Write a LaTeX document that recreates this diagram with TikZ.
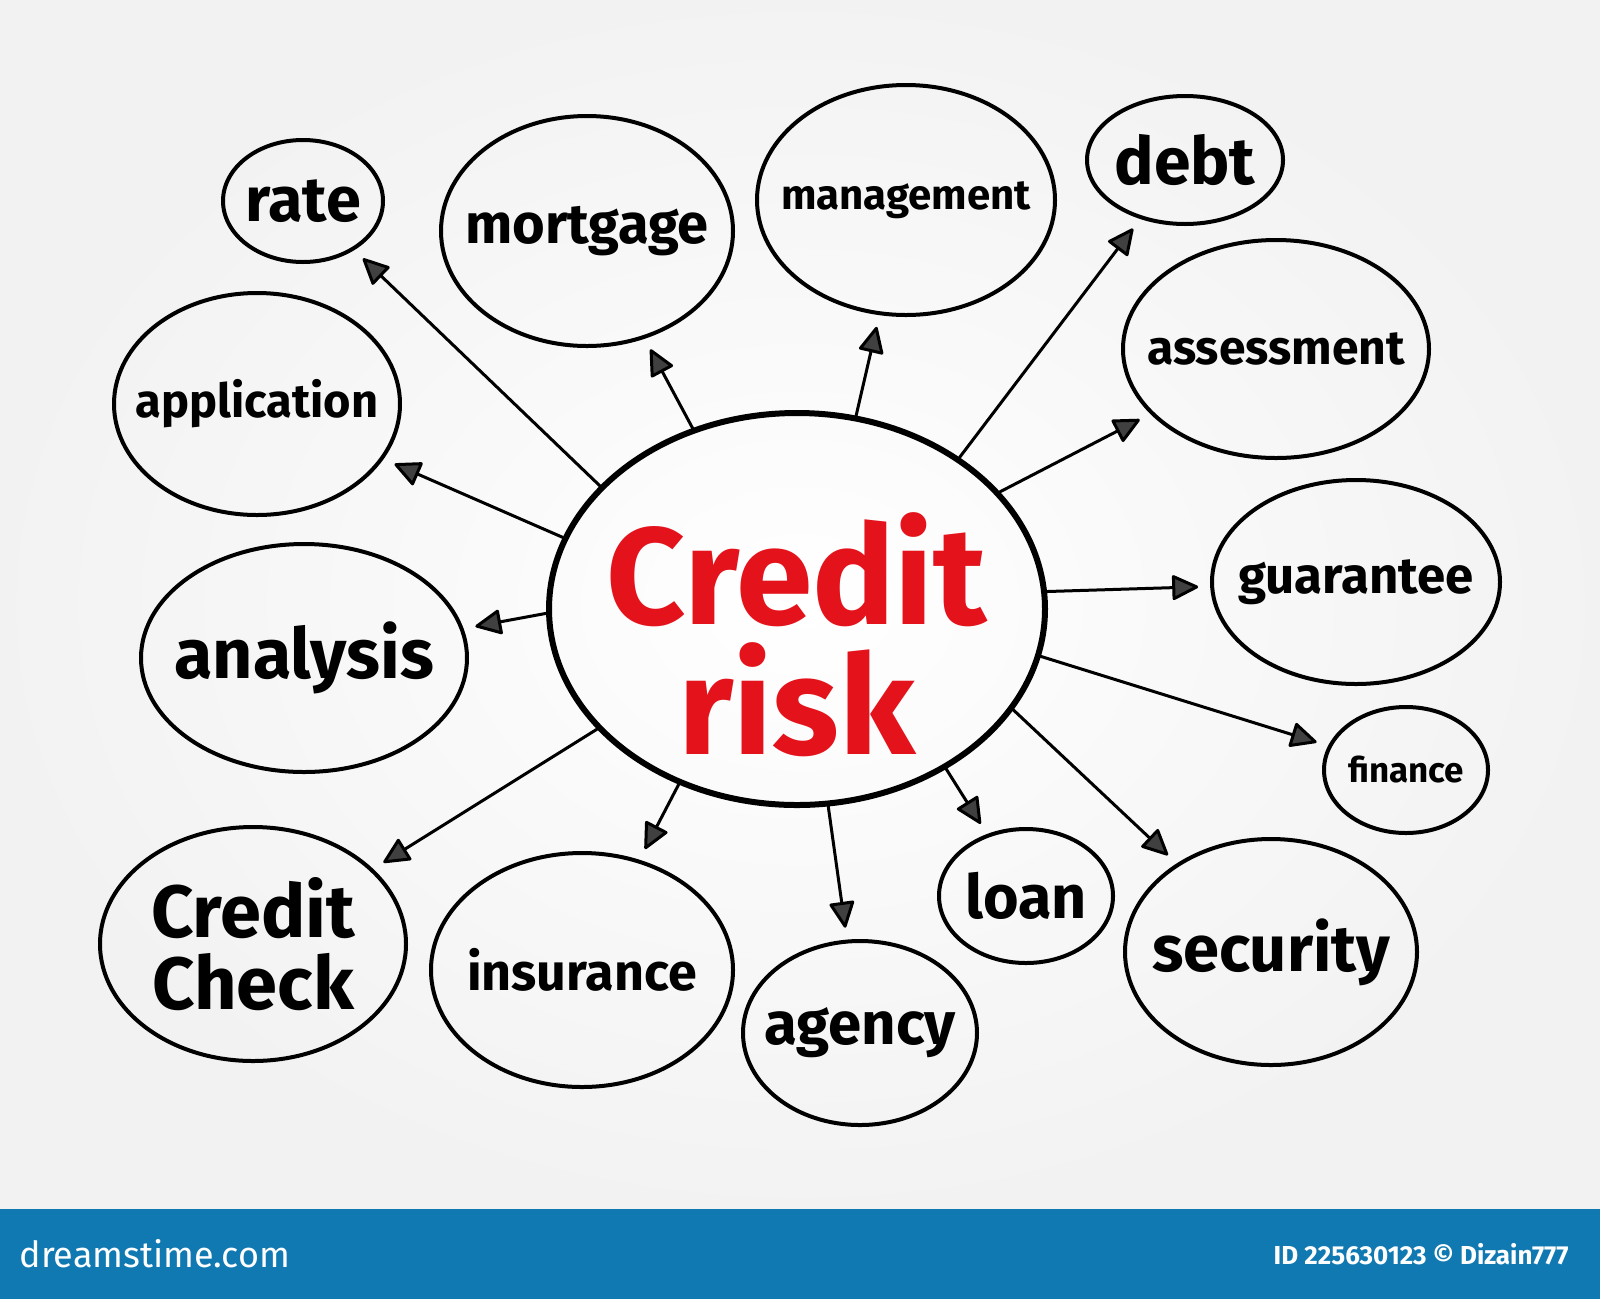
\documentclass[tikz,border=0pt]{standalone}
\usepackage{fontspec}
\setmainfont{Fira Sans}
\usetikzlibrary{shapes.geometric,arrows.meta}

\definecolor{riskred}{HTML}{E3121B}
\definecolor{barblue}{HTML}{1079B1}
\newcommand{\fsz}[1]{\fontsize{#1}{#1}\selectfont\bfseries}
\newcommand{\riskfont}{\fontsize{138}{130}\selectfont\bfseries}
\newcommand{\checkfont}{\fontsize{74}{72}\selectfont\bfseries}
\def\lw{4pt}

\tikzset{
  bubble/.style={ellipse, draw, line width=\lw, inner sep=0pt},
  spoke/.style={line width=3pt, line cap=round,
    -{Triangle[length=28pt,width=26pt,fill=black!75,line join=round]}, shorten >=12pt},
}

\begin{document}
\begin{tikzpicture}[x=1pt, y=-1pt]
      \useasboundingbox (0,0) rectangle (1600,1299);
      \shade[inner color=white, outer color=black!5] (0,0) rectangle (1600,1209);
      \fill[barblue] (0,1209) rectangle (1600,1299);

      \node[bubble, line width=6pt, minimum width=496pt, minimum height=392pt,
        label={[font=\riskfont, text=riskred, align=center, yshift=-26pt]center:Credit\\risk}] (risk) at (797,609) {};

      \node[bubble, minimum width=160pt, minimum height=122pt, label={[font=\fsz{63}]center:rate}] (rate) at (303,201) {};
      \node[bubble, minimum width=292pt, minimum height=230pt, label={[font=\fsz{56}]center:mortgage}] (mortgage) at (587,231) {};
      \node[bubble, minimum width=298pt, minimum height=230pt, label={[font=\fsz{42}]center:management}] (management) at (906,200) {};
      \node[bubble, minimum width=196pt, minimum height=128pt, label={[font=\fsz{66}]center:debt}] (debt) at (1185,160) {};
      \node[bubble, minimum width=306pt, minimum height=218pt, label={[font=\fsz{48}]center:assessment}] (assessment) at (1276,349) {};
      \node[bubble, minimum width=286pt, minimum height=222pt, label={[font=\fsz{47}]center:application}] (application) at (257,404) {};
      \node[bubble, minimum width=288pt, minimum height=204pt, label={[font=\fsz{51}]center:guarantee}] (guarantee) at (1356,582) {};
      \node[bubble, minimum width=326pt, minimum height=228pt, label={[font=\fsz{70}]center:analysis}] (analysis) at (304,658) {};
      \node[bubble, minimum width=164pt, minimum height=126pt, label={[font=\fsz{35}]center:finance}] (finance) at (1406,770) {};
      \node[bubble, minimum width=306pt, minimum height=234pt,
        label={[font=\checkfont, align=center]center:Credit\\Check}] (check) at (253,944) {};
      \node[bubble, minimum width=302pt, minimum height=234pt, label={[font=\fsz{52}]center:insurance}] (insurance) at (582,970) {};
      \node[bubble, minimum width=234pt, minimum height=184pt, label={[font=\fsz{60}]center:agency}] (agency) at (860,1033) {};
      \node[bubble, minimum width=174pt, minimum height=134pt, label={[font=\fsz{61}]center:loan}] (loan) at (1026,896) {};
      \node[bubble, minimum width=292pt, minimum height=226pt, label={[font=\fsz{65}]center:security}] (security) at (1271,952) {};

      \draw[spoke] (risk.148) -- (rate);
      \draw[spoke] (risk.120) -- (mortgage);
      \draw[spoke] (risk.73) -- (management);
      \draw[spoke] (risk.43) -- (debt);
      \draw[spoke] (risk.30) -- (assessment);
      \draw[spoke] (risk.163) -- (application);
      \draw[spoke] (risk.4) -- (guarantee);
      \draw[spoke] (risk.181) -- (analysis);
      \draw[spoke] (risk.349) -- (finance);
      \draw[spoke] (risk.211) -- (check);
      \draw[spoke] (risk.236) -- (insurance);
      \draw[spoke] (risk.279) -- (agency);
      \draw[spoke] (risk.313) -- (loan);
      \draw[spoke] (risk.335) -- (security);

      \node[anchor=west, text=white, font=\fontsize{36}{36}\selectfont] (site) at (16,1254) {dreamstime.com};
      \node[anchor=east, text=white, font=\fsz{26}] (imgid) at (1572,1254) {ID 225630123 © Dizain777};
\end{tikzpicture}
\end{document}
